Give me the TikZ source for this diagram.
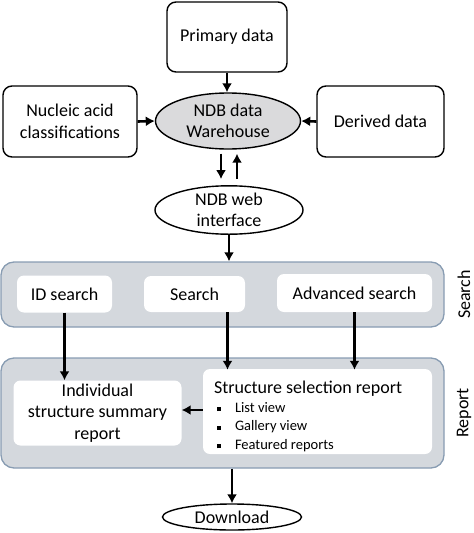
\documentclass[tikz,border=0pt]{standalone}
\usepackage{fontspec}
\setmainfont{Carlito}
\usepackage{tikz}
\usetikzlibrary{shapes.geometric,arrows.meta}

\definecolor{panelfill}{RGB}{212,216,221}
\definecolor{panelline}{RGB}{136,156,178}
\definecolor{whfill}{RGB}{218,218,220}

\tikzset{
	databox/.style={draw, line width=1.4pt, rounded corners=9pt, fill=white, align=center, inner sep=0pt},
	dataoval/.style={draw, line width=1.4pt, ellipse, align=center, inner sep=0pt},
	panel/.style={draw=panelline, line width=1.3pt, rounded corners=13pt, fill=panelfill, inner sep=0pt},
	choice/.style={fill=white, rounded corners=7pt, align=center, inner sep=0pt},
	flow/.style={line width=2.6pt, ->, >={Latex[length=9pt,width=10pt]}},
	sidelabel/.style={rotate=90, font=\fontsize{18}{21.6}\selectfont}
}

\begin{document}
\begin{tikzpicture}[x=1pt, y=-1pt, font=\fontsize{18}{21.6}\selectfont]
		{
			\def\bul{\hspace{3pt}\rule[1pt]{4pt}{4pt}\hspace{14pt}}
			\def\small{\fontsize{14.5}{17.5}\selectfont}
			\useasboundingbox (0,0) rectangle (474,533);

			% sources round the warehouse
			\node[databox, minimum width=120pt, minimum height=70pt] (prim) at (227,37) {Primary data};
			\node[databox, minimum width=134pt, minimum height=71pt] (nuc) at (70,121.5) {Nucleic acid\\classifications};
			\node[databox, minimum width=127pt, minimum height=71pt] (der) at (380.5,121.5) {Derived data};
			\node[dataoval, fill=whfill, minimum width=145pt, minimum height=56pt] (wh) at (228,121) {NDB data\\Warehouse};
			\node[dataoval, fill=white, minimum width=148pt, minimum height=46pt] (web) at (229,210) {NDB web\\interface};

			\draw[flow] (prim.south) -- (wh.north -| prim.south);
			\draw[flow] (nuc.east) -- (wh.west);
			\draw[flow] (der.west) -- (wh.east);
			\draw[flow] ([xshift=-7pt,yshift=-4pt]wh.south) -- ([xshift=-8pt,yshift=6pt]web.north);
			\draw[flow] ([xshift=8pt,yshift=6pt]web.north) -- ([xshift=9pt,yshift=-4pt]wh.south);

			% search panel
			\node[panel, minimum width=443pt, minimum height=65pt] (spanel) at (222.5,294.5) {};
			\node[sidelabel] (slab) at (464,294.5) {Search};
			\node[choice, minimum width=95pt, minimum height=37pt] (ids) at (64.5,294) {ID search};
			\node[choice, minimum width=101pt, minimum height=36pt] (srch) at (194.5,294) {Search};
			\node[choice, minimum width=155pt, minimum height=38pt] (adv) at (354.5,293) {Advanced search};

			\draw[flow] (web.south) -- (spanel.north -| web.south);

			% report panel
			\node[panel, minimum width=443pt, minimum height=110pt] (rpanel) at (222.5,413) {};
			\node[sidelabel] (rlab) at (464,413) {Report};
			\node[choice, minimum width=168pt, minimum height=65pt] (ind) at (97.5,413) {Individual\\structure summary\\report};
			\node[choice, minimum width=229pt, minimum height=85pt] (sel) at (317.5,411.5) {};
			\node[anchor=north west, inner sep=0pt, align=left] (seltxt) at ([xshift=11pt,yshift=-12pt]sel.north west)
				{Structure selection report\\[-3pt]
				\small\bul List view\\[-3pt]
				\small\bul Gallery view\\[-3pt]
				\small\bul Featured reports};

			\draw[flow] (ids.south) -- (ids.south |- ind.north);
			\draw[flow] ([xshift=33pt]srch.south) -- ([xshift=33pt,yshift=-1pt]srch.south |- sel.north);
			\draw[flow] (adv.south) -- ([yshift=-1pt]adv.south |- sel.north);
			\draw[flow] ([yshift=1.5pt]sel.west) -- ([yshift=1.5pt]sel.west -| ind.east);

			% output
			\node[dataoval, fill=white, minimum width=139pt, minimum height=26pt] (dl) at (232,517) {Download};
			\draw[flow] (rpanel.south -| dl.north) -- (dl.north);
		}
	\end{tikzpicture}
\end{document}
